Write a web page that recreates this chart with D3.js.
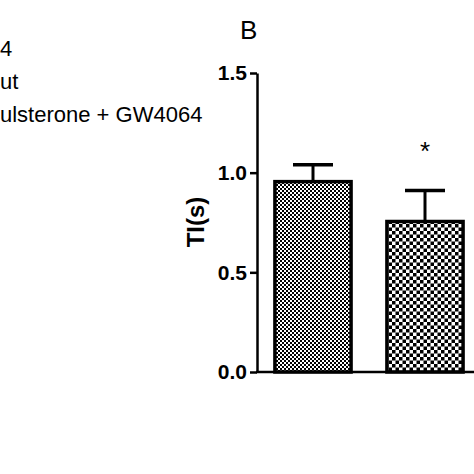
<!DOCTYPE html>
<html><head><meta charset="utf-8">
<script src="https://cdn.jsdelivr.net/npm/d3@7"></script>
<style>body{margin:0;background:#fff}text{font-family:"Liberation Sans",Arial,sans-serif}</style>
</head><body><div id="main"></div>
<script>
var groups = ["GW4064", "Guggulsterone + GW4064"];
var means = [0.955, 0.755];
var errs = [0.085, 0.155];
var yTicks = [0.0, 0.5, 1.0, 1.5];
var legendLines = ["4", "ut", "ulsterone + GW4064"];

var ctx = {w: 474, h: 474};
var svg = d3.select("#main").append("svg").attr("width", ctx.w).attr("height", ctx.h);
var defs = svg.append("defs");
function checker(id, s) {
    var p = defs.append("pattern").attr("id", id).attr("patternUnits", "userSpaceOnUse")
        .attr("width", 2 * s).attr("height", 2 * s);
    p.append("rect").attr("width", 2 * s).attr("height", 2 * s).attr("fill", "#fff");
    p.append("rect").attr("width", s).attr("height", s).attr("fill", "#000");
    p.append("rect").attr("x", s).attr("y", s).attr("width", s).attr("height", s).attr("fill", "#000");
}
checker("fine", 2);
checker("coarse", 3.5);
var fills = ["url(#fine)", "url(#coarse)"];

var y = d3.scaleLinear().domain([0, 1.5]).range([372, 73]);
var x = d3.scaleBand().domain(groups).range([257, 481]).paddingInner(0.32).paddingOuter(0.16);

// legend (clipped on left)
svg.selectAll("text.leg").data(legendLines).enter().append("text")
    .attr("x", 0).attr("y", function(d, i) { return 56 + i * 33; })
    .attr("font-size", 22).text(function(d) { return d; });
svg.append("text").attr("x", 240).attr("y", 39).attr("font-size", 26).text("B");

var g = svg.append("g");
g.selectAll("line.err").data(groups).enter().append("line")
    .attr("x1", function(d) { return x(d) + x.bandwidth() / 2; })
    .attr("x2", function(d) { return x(d) + x.bandwidth() / 2; })
    .attr("y1", function(d, i) { return y(means[i]); })
    .attr("y2", function(d, i) { return y(means[i] + errs[i]); })
    .attr("stroke", "#000").attr("stroke-width", 3);
g.selectAll("line.cap").data(groups).enter().append("line")
    .attr("x1", function(d) { return x(d) + x.bandwidth() / 2 - 20; })
    .attr("x2", function(d) { return x(d) + x.bandwidth() / 2 + 20; })
    .attr("y1", function(d, i) { return y(means[i] + errs[i]); })
    .attr("y2", function(d, i) { return y(means[i] + errs[i]); })
    .attr("stroke", "#000").attr("stroke-width", 3.5);
g.selectAll("rect.bar").data(groups).enter().append("rect")
    .attr("x", function(d) { return x(d); })
    .attr("width", x.bandwidth())
    .attr("y", function(d, i) { return y(means[i]); })
    .attr("height", function(d, i) { return y(0) - y(means[i]); })
    .attr("fill", function(d, i) { return fills[i]; })
    .attr("stroke", "#000").attr("stroke-width", 3.5);
svg.append("text").attr("x", x(groups[1]) + x.bandwidth() / 2).attr("y", 160)
    .attr("text-anchor", "middle").attr("font-size", 26).text("*");

var ax = svg.append("g").attr("transform", "translate(257,0)")
    .call(d3.axisLeft(y).tickValues(yTicks).tickFormat(d3.format(".1f")).tickSize(7).tickSizeOuter(0));
ax.select(".domain").attr("stroke-width", 2.5);
ax.selectAll(".tick line").attr("stroke-width", 2.5);
ax.selectAll(".tick text").attr("font-size", 21).attr("font-weight", "bold")
    .attr("font-family", "Liberation Sans, Arial, sans-serif").attr("fill", "#000");
svg.append("line").attr("x1", 256).attr("x2", 474).attr("y1", 372).attr("y2", 372)
    .attr("stroke", "#000").attr("stroke-width", 2.5);
svg.append("text").attr("transform", "translate(204,222) rotate(-90)")
    .attr("text-anchor", "middle").attr("font-size", 24).attr("font-weight", "bold").text("TI(s)");
</script></body></html>
